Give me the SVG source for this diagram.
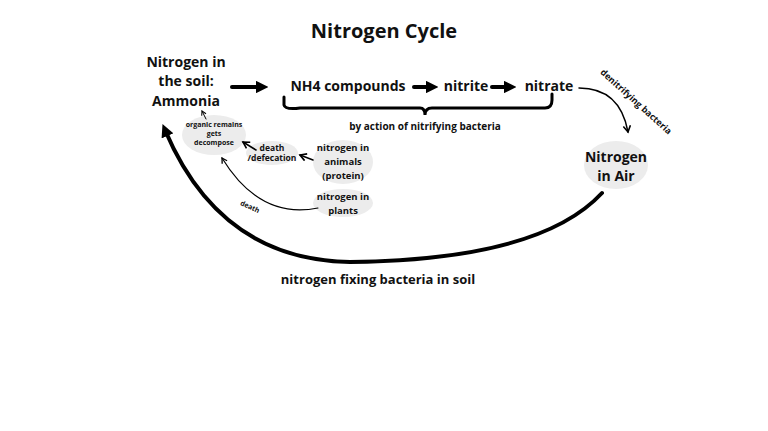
<svg xmlns="http://www.w3.org/2000/svg" width="768" height="431" viewBox="0 0 768 431">
<style>
text{font-family:"Open Sans","Liberation Sans",sans-serif;font-weight:bold;fill:#111;text-anchor:middle}
.blob{fill:#ececec}
.c{fill:none;stroke:#000;stroke-linecap:round}
</style>
<defs>
<marker id="big" viewBox="0 0 10 10" refX="5" refY="5" markerWidth="3.2" markerHeight="3.2" orient="auto"><path d="M0,0L10,5L0,10z" fill="#000"/></marker>
<marker id="open" viewBox="0 0 10 10" refX="8" refY="5" markerWidth="6" markerHeight="6" orient="auto"><path d="M1,1L8,5L1,9" fill="none" stroke="#000" stroke-width="1.8"/></marker>
</defs>
<rect width="768" height="431" fill="#fff"/>
<text x="384" y="38" font-size="20">Nitrogen Cycle</text>
<g id="ammonia"><text x="186" y="67" font-size="14">Nitrogen in</text><text x="186" y="86" font-size="14">the soil:</text><text x="186" y="106" font-size="14">Ammonia</text></g>
<g id="nh4"><text x="348" y="91" font-size="14">NH4 compounds</text></g>
<g id="nitrite"><text x="466" y="91" font-size="14">nitrite</text></g>
<g id="nitrate"><text x="549" y="91" font-size="14">nitrate</text></g>
<g id="nitrify"><text x="425" y="130" font-size="10">by action of nitrifying bacteria</text></g>
<g id="air"><ellipse class="blob" cx="616" cy="165" rx="32" ry="24"/><text x="616" y="162" font-size="14">Nitrogen</text><text x="616" y="181" font-size="14">in Air</text></g>
<g id="organic"><ellipse class="blob" cx="214" cy="135" rx="32" ry="20"/><text x="214" y="127" font-size="7">organic remains</text><text x="214" y="136" font-size="7">gets</text><text x="214" y="145" font-size="7">decompose</text></g>
<g id="death1"><ellipse class="blob" cx="272" cy="153" rx="26" ry="12"/><text x="272" y="151" font-size="8.5">death</text><text x="272" y="161" font-size="8.5">/defecation</text></g>
<g id="animals"><ellipse class="blob" cx="343" cy="162" rx="30" ry="22"/><text x="343" y="151" font-size="9.5">nitrogen in</text><text x="343" y="165" font-size="9.5">animals</text><text x="343" y="179" font-size="9.5">(protein)</text></g>
<g id="plants"><ellipse class="blob" cx="343" cy="203" rx="30" ry="14"/><text x="343" y="200" font-size="9.5">nitrogen in</text><text x="343" y="214" font-size="9.5">plants</text></g>
<g id="fix"><text x="378" y="284" font-size="13">nitrogen fixing bacteria in soil</text></g>
<text x="249" y="209" font-size="7" transform="rotate(25 249 209)">death</text>
<text x="634" y="104" font-size="9" transform="rotate(42 634 104)">denitrifying bacteria</text>
<g id="connectors">
<path class="c" d="M232,87H262" stroke-width="4" marker-end="url(#big)"/>
<path class="c" d="M414,87H432" stroke-width="4" marker-end="url(#big)"/>
<path class="c" d="M492,87H510" stroke-width="4" marker-end="url(#big)"/>
<path class="c" d="M284,97V105Q285,110 300,108H420Q425,108 425,115Q425,108 432,108H545Q552,108 552,100V94" stroke-width="3"/>
<path class="c" d="M579,88Q620,88 628,132" stroke-width="1.5" marker-end="url(#open)"/>
<path class="c" d="M602,193Q540,260 350,262Q220,260 165,130" stroke-width="4" marker-end="url(#big)"/>
<path class="c" d="M313,160L300,155" stroke-width="1.5" marker-end="url(#open)"/>
<path class="c" d="M256,150L243,142" stroke-width="1.5" marker-end="url(#open)"/>
<path class="c" d="M318,208Q260,220 222,158" stroke-width="1.2" marker-end="url(#open)"/>
<path class="c" d="M206,119L202,111" stroke-width="1" marker-end="url(#open)"/>
</g>
</svg>
